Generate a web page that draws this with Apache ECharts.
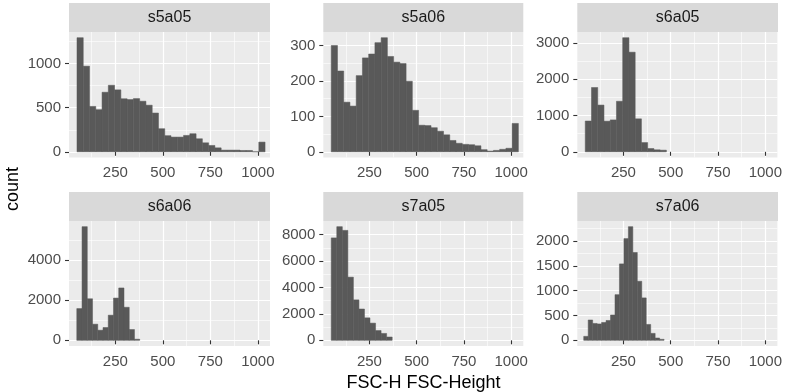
<!DOCTYPE html>
<html><head><meta charset="utf-8">
<script src="https://cdn.jsdelivr.net/npm/echarts@6/dist/echarts.min.js"></script>
<style>html,body{margin:0;padding:0;background:#fff}#c{width:785px;height:392px}</style>
</head><body><div id="c"></div>
<script>
// ---- data ----
const panelNames = ['s5a05', 's5a06', 's6a05', 's6a06', 's7a05', 's7a06'];
const binStart = [48, 48, 48, 47, 48, 40];
const binWidth = [33, 33, 33, 27.6, 29.3, 23.6];
const counts_s5a05 = [1295, 972, 515, 478, 676, 755, 703, 602, 593, 604, 574, 529, 440, 262, 183, 167, 167, 186, 205, 148, 102, 72, 45, 19, 19, 19, 15, 15, 0, 110];
const counts_s5a06 = [300, 228, 140, 129, 215, 265, 276, 308, 322, 269, 253, 249, 199, 117, 75, 74, 68, 58, 48, 32, 24, 21, 20, 17, 6, 2, 4, 7, 10, 80];
const counts_s6a05 = [850, 1775, 1290, 845, 880, 1395, 3150, 2750, 910, 255, 90, 55, 45];
const counts_s6a06 = [1585, 5675, 2075, 805, 505, 640, 1255, 2110, 2615, 1650, 540, 55];
const counts_s7a05 = [7750, 8600, 8320, 4780, 3060, 2370, 1700, 1300, 740, 520, 250];
const counts_s7a06 = [80, 410, 340, 330, 360, 400, 510, 920, 1540, 2050, 2290, 1770, 1190, 855, 320, 140, 47, 20];
const xTicks = [250, 500, 750, 1000];
const xMinorTicks = [125, 375, 625, 875];
const xRange = [6, 1064];
const yTicks = [[0, 500, 1000], [0, 100, 200, 300], [0, 1000, 2000, 3000], [0, 2000, 4000], [0, 2000, 4000, 6000, 8000], [0, 500, 1000, 1500, 2000]];
const yMinorTicks = [[250, 750, 1250], [50, 150, 250], [500, 1500, 2500], [1000, 3000, 5000], [1000, 3000, 5000, 7000], [250, 750, 1250, 1750, 2250]];
const xTitle = 'FSC-H FSC-Height';
const yTitle = 'count';
// ---- layout ----
const allCounts = [counts_s5a05, counts_s5a06, counts_s6a05, counts_s6a06, counts_s7a05, counts_s7a06];
const colLeft = [69, 323.3, 577.3], colWidth = [201, 200, 200.7];
const rowTop = [32, 221], rowHeight = [125.5, 125];
const stripH = 29;
const FONT = 'Liberation Sans, Arial, sans-serif';

const grids = [], xAxes = [], yAxes = [], series = [], graphics = [];
panelNames.forEach((name, i) => {
  const c = i % 3, r = Math.floor(i / 3);
  grids.push({left: colLeft[c], top: rowTop[r], width: colWidth[c], height: rowHeight[r],
    show: true, backgroundColor: '#EBEBEB', borderWidth: 0});
  const cnt = allCounts[i];
  const mx = Math.max(...cnt);
  const yMin = -0.05 * mx, yMax = 1.05 * mx;
  xAxes.push({gridIndex: i, type: 'value', position: 'bottom', min: xRange[0], max: xRange[1],
    axisLine: {show: false},
    axisTick: {show: true, length: 4, lineStyle: {color: '#333333', width: 1.1}, customValues: xTicks},
    axisLabel: {show: true, color: '#4D4D4D', fontSize: 15, fontFamily: FONT, margin: 8, customValues: xTicks, formatter: v => String(v)},
    splitLine: {show: true, lineStyle: {color: '#FFFFFF', width: 1.2}}});
  xAxes.push({gridIndex: i, type: 'value', position: 'top', min: xRange[0], max: xRange[1],
    axisLine: {show: false}, axisTick: {show: false, customValues: xMinorTicks}, axisLabel: {show: false, customValues: xMinorTicks},
    splitLine: {show: true, lineStyle: {color: '#FFFFFF', width: 0.6}}});
  yAxes.push({gridIndex: i, type: 'value', position: 'left', min: yMin, max: yMax,
    axisLine: {show: false},
    axisTick: {show: true, length: 4, lineStyle: {color: '#333333', width: 1.1}, customValues: yTicks[i]},
    axisLabel: {show: true, color: '#4D4D4D', fontSize: 15, fontFamily: FONT, margin: 8, customValues: yTicks[i], formatter: v => String(v)},
    splitLine: {show: true, lineStyle: {color: '#FFFFFF', width: 1.2}}});
  yAxes.push({gridIndex: i, type: 'value', position: 'right', min: yMin, max: yMax,
    axisLine: {show: false}, axisTick: {show: false, customValues: yMinorTicks[i]}, axisLabel: {show: false, customValues: yMinorTicks[i]},
    splitLine: {show: true, lineStyle: {color: '#FFFFFF', width: 0.6}}});
  const data = cnt.map((v, k) => [binStart[i] + k * binWidth[i], binStart[i] + (k + 1) * binWidth[i], v]);
  series.push({type: 'custom', xAxisIndex: 2 * i, yAxisIndex: 2 * i, data: data,
    encode: {x: [0, 1], y: 2}, silent: true, animation: false,
    renderItem: (params, api) => {
      const p0 = api.coord([api.value(0), api.value(2)]);
      const p1 = api.coord([api.value(1), 0]);
      return {type: 'rect', shape: {x: p0[0], y: p0[1], width: p1[0] - p0[0], height: p1[1] - p0[1]},
        style: {fill: '#595959', stroke: '#595959', lineWidth: 0.5}};
    }});
  graphics.push({type: 'rect', left: colLeft[c], top: rowTop[r] - stripH, shape: {width: colWidth[c], height: stripH},
    style: {fill: '#D9D9D9'}, silent: true});
  graphics.push({type: 'text', x: colLeft[c] + colWidth[c] / 2, y: rowTop[r] - stripH / 2,
    style: {text: name, fill: '#1A1A1A', font: '16px ' + FONT, textAlign: 'center', textVerticalAlign: 'middle'}, silent: true});
});
graphics.push({type: 'text', x: 423.4, y: 383, style: {text: xTitle, fill: '#000000', font: '18px ' + FONT, textAlign: 'center', textVerticalAlign: 'middle'}, silent: true});
graphics.push({type: 'text', x: 13, y: 189, rotation: Math.PI / 2, style: {text: yTitle, fill: '#000000', font: '18px ' + FONT, textAlign: 'center', textVerticalAlign: 'middle'}, silent: true});

const chart = echarts.init(document.getElementById('c'), null, {renderer: 'canvas'});
chart.setOption({animation: false, grid: grids, xAxis: xAxes, yAxis: yAxes, series: series, graphic: graphics});
</script></body></html>
